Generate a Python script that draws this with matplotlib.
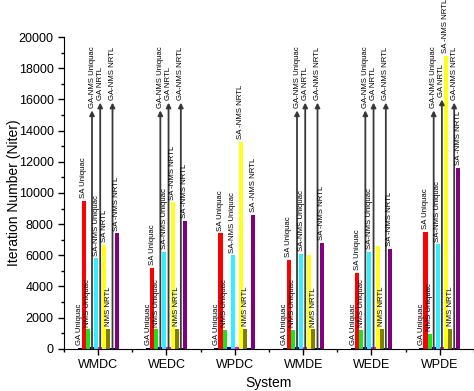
import numpy as np
import matplotlib
matplotlib.use("Agg")
import matplotlib.pyplot as plt
from matplotlib.ticker import MultipleLocator, FixedLocator

plt.rcParams['font.family'] = ['Liberation Sans', 'DejaVu Sans']

systems = ['WMDC', 'WEDC', 'WPDC', 'WMDE', 'WEDE', 'WPDE']

# one list per method, one value per system
ga_uniquac = [60, 60, 60, 60, 60, 60]
sa_uniquac = [9500, 5200, 7400, 5700, 4850, 7500]
nms_uniquac = [1250, 1250, 1200, 1200, 1200, 950]
ga_nms_uniquac = [120, 120, 120, 120, 120, 120]
sa_nms_uniquac = [5800, 6200, 6000, 6100, 6200, 6700]
ga_nrtl = [120, 120, 120, 120, 120, 120]
sa_nrtl = [6650, 9400, 13300, 6050, 6600, 18800]
nms_nrtl = [1300, 1300, 1300, 1250, 1300, 1300]
ga_nms_nrtl = [80, 80, 80, 80, 80, 80]
sa_nms_nrtl = [7400, 8200, 8600, 6800, 6400, 11600]

# arrow tips for the GA based runs (nan = no arrow)
arrow_ga_nms_uniquac = [15300, 15300, np.nan, 15300, 15300, 15300]
arrow_ga_nrtl = [15800, 15800, np.nan, 15800, 15800, 16000]
arrow_ga_nms_nrtl = [15800, 15800, np.nan, 15800, 15800, 15800]

# text written over the yellow bars (as in the original)
yellow_labels = ['SA NRTL', 'SA -NMS NRTL', 'SA -NMS NRTL', '', '', 'SA -NMS NRTL']

series = [ga_uniquac, sa_uniquac, nms_uniquac, ga_nms_uniquac, sa_nms_uniquac,
          ga_nrtl, sa_nrtl, nms_nrtl, ga_nms_nrtl, sa_nms_nrtl]
colors = ['#000080', '#ff0000', '#19e619', '#0000cc', '#33eeff',
          '#ff00ff', '#ffff1a', '#808000', '#000080', '#800080']
labels = ['GA Uniquac', 'SA Uniquac', 'NMS Uniquac', None, 'SA-NMS Uniquac',
          None, 'yellow', 'NMS NRTL', None, 'SA -NMS NRTL']
arrows = {3: (arrow_ga_nms_uniquac, 'GA-NMS Uniquac'),
          5: (arrow_ga_nrtl, 'GA NRTL'),
          8: (arrow_ga_nms_nrtl, 'GA-NMS NRTL')}

fig = plt.figure(figsize=(4.74, 3.91), dpi=100)
ax = fig.add_axes([0.135, 0.108, 0.865, 0.797])

x = np.arange(1, len(systems) + 1)
w = 0.06
fs = 5.6

for i, vals in enumerate(series):
    xs = x + (i - 4.5) * w
    ax.bar(xs, vals, width=w, color=colors[i], linewidth=0)
    for j in range(len(systems)):
        txt = labels[i]
        if txt == 'yellow':
            txt = yellow_labels[j]
        if txt:
            ax.annotate(txt, (xs[j], vals[j]), xytext=(0, 2), textcoords='offset points',
                        rotation=90, ha='center', va='bottom', fontsize=fs,
                        annotation_clip=False)
    if i in arrows:
        tops, name = arrows[i]
        for j in range(len(systems)):
            if np.isnan(tops[j]):
                continue
            ax.annotate('', xy=(xs[j], tops[j]), xytext=(xs[j], 0),
                        arrowprops=dict(arrowstyle='-|>', color='#3a3a3a', lw=1.3,
                                        mutation_scale=7, shrinkA=0, shrinkB=0,
                                        fc='black'),
                        annotation_clip=False)
            ax.annotate(name, (xs[j], tops[j]), xytext=(0, 2), textcoords='offset points',
                        rotation=90, ha='center', va='bottom', fontsize=fs,
                        annotation_clip=False)

ax.set_xlim(0.5, 6.5)
ax.set_ylim(0, 20000)
ax.set_xticks(x)
ax.set_xticklabels(systems, fontsize=9)
ax.xaxis.set_minor_locator(FixedLocator(np.arange(0.5, 7, 1.0)))
ax.yaxis.set_major_locator(MultipleLocator(2000))
ax.yaxis.set_minor_locator(MultipleLocator(1000))
ax.tick_params(axis='y', labelsize=9)
ax.tick_params(which='major', direction='out', length=4, width=1)
ax.tick_params(which='minor', direction='out', length=2.5, width=1)
ax.spines['top'].set_visible(False)
ax.spines['right'].set_visible(False)
ax.set_xlabel('System', fontsize=10)
ax.set_ylabel('Iteration Number (Niter)', fontsize=10)
ax.xaxis.set_label_coords(0.5, -0.088)
ax.yaxis.set_label_coords(-0.105, 0.5)

fig.savefig('out.png', dpi=100)
